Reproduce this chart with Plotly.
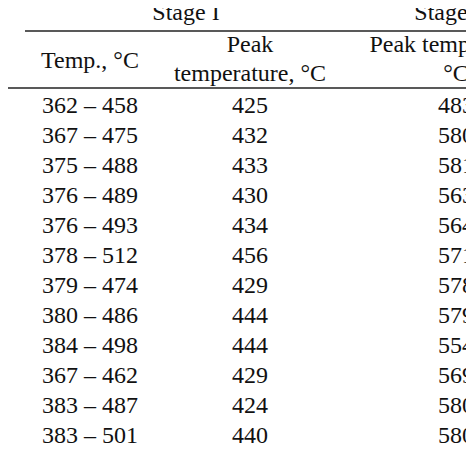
import plotly.graph_objects as go

temp_range = ["362 – 458", "367 – 475", "375 – 488", "376 – 489", "376 – 493", "378 – 512",
              "379 – 474", "380 – 486", "384 – 498", "367 – 462", "383 – 487", "383 – 501"]
peak1 = [425, 432, 433, 430, 434, 456, 429, 444, 444, 429, 424, 440]
peak2 = [483, 580, 581, 563, 564, 571, 578, 579, 554, 569, 580, 580]

col_x = [90, 250, 456]
row_y0, row_dy = 107, 30
rows_y = [row_y0 + i * row_dy for i in range(len(temp_range))]

FONT = dict(family="Liberation Serif, Times New Roman, serif", size=24, color="#111")

fig = go.Figure()
for x, vals in zip(col_x, [temp_range, peak1, peak2]):
    fig.add_trace(go.Scatter(x=[x] * len(vals), y=rows_y, text=[str(v) for v in vals],
                             mode="text", textfont=FONT, textposition="middle center",
                             hoverinfo="skip", cliponaxis=False))

headers = [
    (186, 14, "Stage I"),
    (452, 14, "Stage II"),
    (90, 62, "Temp., °C"),
    (250, 46, "Peak"),
    (250, 75, "temperature, °C"),
    (456, 46, "Peak temperature,"),
    (456, 75, "°C"),
]
fig.add_trace(go.Scatter(x=[h[0] for h in headers], y=[h[1] for h in headers],
                         text=[h[2] for h in headers], mode="text", textfont=FONT,
                         textposition="middle center", hoverinfo="skip", cliponaxis=False))

fig.add_shape(type="line", x0=25, x1=480, y0=31, y1=31, line=dict(color="#222", width=1.5))
fig.add_shape(type="line", x0=0, x1=480, y0=88, y1=88, line=dict(color="#222", width=1.5))

# page body has an 8px margin, so the figure starts at pixel 8
fig.update_layout(
    width=466, height=466, margin=dict(l=0, r=0, t=0, b=0),
    showlegend=False, plot_bgcolor="white", paper_bgcolor="white",
    xaxis=dict(range=[8, 474], visible=False, fixedrange=True),
    yaxis=dict(range=[474, 8], visible=False, fixedrange=True),
)
fig.write_html("out.html")
